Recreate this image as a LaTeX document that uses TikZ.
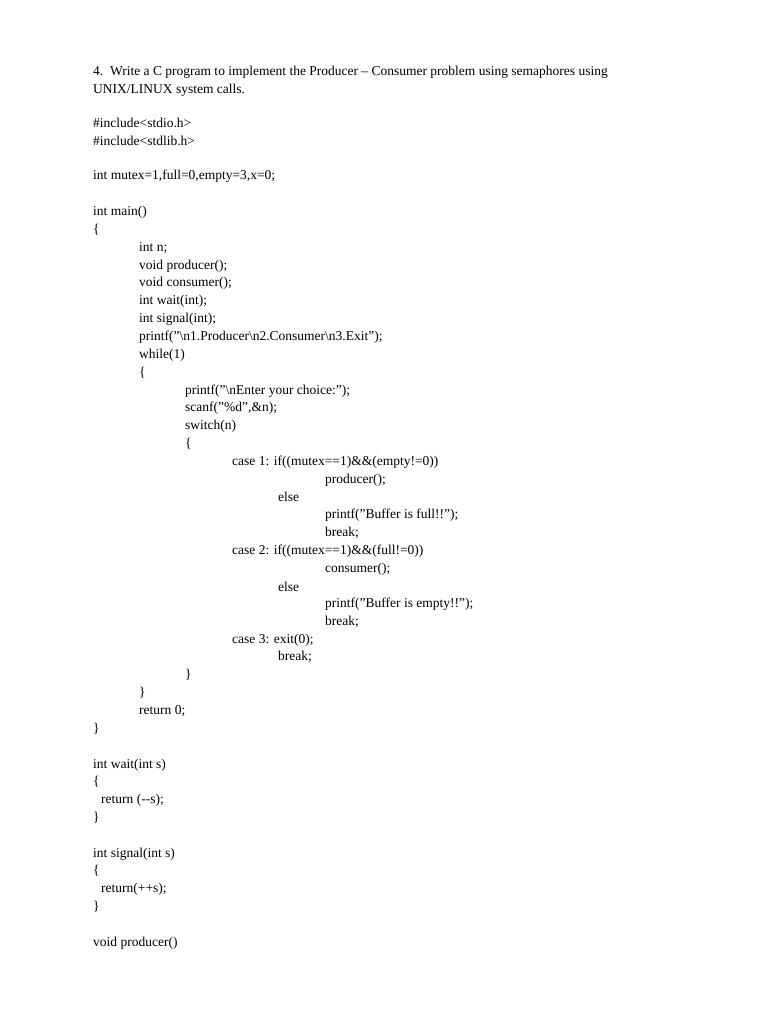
\documentclass[tikz,border=0pt]{standalone}
\usepackage{fontspec}
\setmainfont{Liberation Serif}
\begin{document}
\begin{tikzpicture}[x=1pt,y=-1pt,every node/.style={anchor=west,inner sep=0pt,font=\fontsize{13.5}{16}\selectfont}]
\fill[white] (0,0) rectangle (768,1024);
\useasboundingbox (0,0) rectangle (768,1024);
\node (t1) at (93,72) {4.\ \ Write a C program to implement the Producer – Consumer problem using semaphores using};
\node (t2) at (93,90) {UNIX/LINUX system calls.};
\node (a1) at (93,123) {\#include<stdio.h>};
\node (a2) at (93,141) {\#include<stdlib.h>};
\node (a3) at (93,176) {int mutex=1,full=0,empty=3,x=0;};
\node (m1) at (93,212) {int main()};
\node (m2) at (93,230) {\{};
\node (m3) at (139,248) {int n;};
\node (m4) at (139,266) {void producer();};
\node (m5) at (139,283) {void consumer();};
\node (m6) at (139,301) {int wait(int);};
\node (m7) at (139,319) {int signal(int);};
\node (m8) at (139,337) {printf("\textbackslash n1.Producer\textbackslash n2.Consumer\textbackslash n3.Exit");};
\node (m9) at (139,355) {while(1)};
\node (m10) at (139,373) {\{};
\node (m11) at (185,391) {printf("\textbackslash nEnter your choice:");};
\node (m12) at (185,408) {scanf("\%d",\&n);};
\node (m13) at (185,426) {switch(n)};
\node (m14) at (185,444) {\{};
\node (c1) at (232,462) {case 1: if((mutex==1)\&\&(empty!=0))};
\node (c2) at (325,480) {producer();};
\node (c3) at (278,497) {else};
\node (c4) at (325,515) {printf("Buffer is full!!");};
\node (c5) at (325,533) {break;};
\node (c6) at (232,551) {case 2: if((mutex==1)\&\&(full!=0))};
\node (c7) at (325,569) {consumer();};
\node (c8) at (278,587) {else};
\node (c9) at (325,604) {printf("Buffer is empty!!");};
\node (c10) at (325,622) {break;};
\node (c11) at (232,640) {case 3: exit(0);};
\node (c12) at (278,657) {break;};
\node (e1) at (185,675) {\}};
\node (e2) at (139,693) {\}};
\node (e3) at (139,711) {return 0;};
\node (e4) at (93,729) {\}};
\node (w1) at (93,765) {int wait(int s)};
\node (w2) at (93,782) {\{};
\node (w3) at (101,800) {return (-{}-s);};
\node (w4) at (93,818) {\}};
\node (s1) at (93,854) {int signal(int s)};
\node (s2) at (93,871) {\{};
\node (s3) at (101,889) {return(++s);};
\node (s4) at (93,907) {\}};
\node (p1) at (93,943) {void producer()};
\end{tikzpicture}
\end{document}
